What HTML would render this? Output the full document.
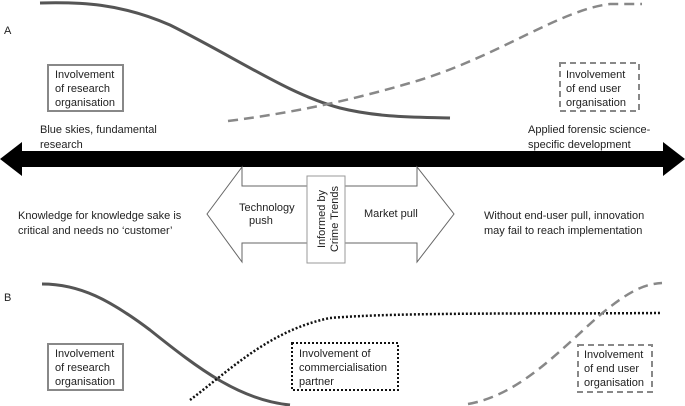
<!DOCTYPE html>
<html><head><meta charset="utf-8"><style>
html,body{margin:0;padding:0;background:#fff;width:685px;height:406px;overflow:hidden}
svg{display:block}
text{font-family:"Liberation Sans",sans-serif;font-size:11px;fill:#222}
</style></head><body>
<svg width="685" height="406" viewBox="0 0 685 406">
<text x="4" y="34" font-size="12">A</text>
<text x="4" y="301" font-size="12">B</text>
<path d="M40 3 C 80 2, 120 3, 170 25 C 240 60, 290 95, 340 108 C 380 118, 420 117, 450 118" fill="none" stroke="#555" stroke-width="3"/>
<path d="M228 121 C 300 112, 360 98, 420 80 C 500 55, 560 10, 610 4 L 642 4" fill="none" stroke="#888" stroke-width="2.5" stroke-dasharray="10,6"/>
<rect x="48" y="65" width="75" height="46" fill="#fff" stroke="#888" stroke-width="2"/>
<text x="55" y="78">Involvement</text><text x="55" y="92">of research</text><text x="55" y="106">organisation</text>
<rect x="560" y="63" width="79" height="48" fill="#fff" stroke="#888" stroke-width="2" stroke-dasharray="6,4"/>
<text x="566" y="78">Involvement</text><text x="566" y="92">of end user</text><text x="566" y="106">organisation</text>
<text x="40" y="133">Blue skies, fundamental</text><text x="40" y="148">research</text>
<text x="528" y="133">Applied forensic science-</text><text x="528" y="148">specific development</text>
<polygon points="0,159 22,142 22,151 663,151 663,142 685,159 663,176 663,167 22,167 22,176" fill="#000"/>
<polygon points="207,214 242,167 242,186 417,186 417,167 454,214 417,262 417,243 242,243 242,262" fill="#fff" stroke="#666" stroke-width="1"/>
<rect x="307" y="176" width="38" height="87" fill="#fff" stroke="#999" stroke-width="1"/>
<text transform="translate(325,219) rotate(-90)" x="0" y="0" text-anchor="middle">Informed by</text>
<text transform="translate(338,219) rotate(-90)" x="0" y="0" text-anchor="middle">Crime Trends</text>
<text x="239" y="211">Technology</text><text x="249" y="224">push</text>
<text x="364" y="217">Market pull</text>
<text x="18" y="219">Knowledge for knowledge sake is</text><text x="18" y="234">critical and needs no ‘customer’</text>
<text x="484" y="219">Without end-user pull, innovation</text><text x="484" y="234">may fail to reach implementation</text>
<path d="M42 284 C 80 284, 110 300, 150 330 C 200 370, 240 400, 290 405" fill="none" stroke="#555" stroke-width="3"/>
<path d="M190 400 C 230 370, 270 330, 330 318 C 400 312, 550 314, 660 313" fill="none" stroke="#111" stroke-width="2.5" stroke-dasharray="2,2"/>
<path d="M468 404 C 520 395, 560 350, 600 315 C 630 290, 645 284, 662 283" fill="none" stroke="#888" stroke-width="2.5" stroke-dasharray="10,6"/>
<rect x="48" y="344" width="75" height="46" fill="#fff" stroke="#888" stroke-width="2"/>
<text x="55" y="357">Involvement</text><text x="55" y="371">of research</text><text x="55" y="385">organisation</text>
<rect x="292" y="343" width="106" height="47" fill="#fff" stroke="#111" stroke-width="2" stroke-dasharray="2,2"/>
<text x="299" y="357">Involvement of</text><text x="299" y="371">commercialisation</text><text x="299" y="385">partner</text>
<rect x="578" y="345" width="74" height="47" fill="#fff" stroke="#888" stroke-width="2" stroke-dasharray="6,4"/>
<text x="584" y="358">Involvement</text><text x="584" y="372">of end user</text><text x="584" y="386">organisation</text>
</svg>
</body></html>
